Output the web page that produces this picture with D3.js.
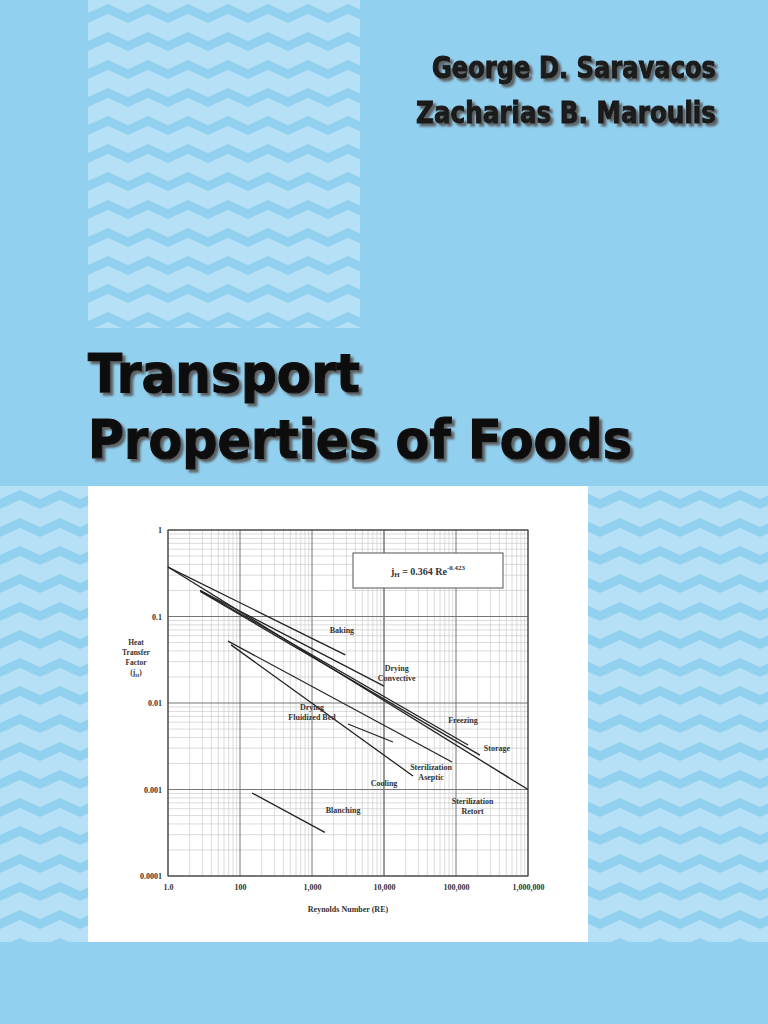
<!DOCTYPE html>
<html><head><meta charset="utf-8">
<script src="https://cdn.jsdelivr.net/npm/d3@7"></script>
<style>body{margin:0;}svg{display:block}</style>
</head><body>
<svg id="c" width="768" height="1024"></svg>
<script>
const authors = ["George D. Saravacos", "Zacharias B. Maroulis"];
const titleLines = ["Transport", "Properties of Foods"];
const xTicks = [10, 100, 1000, 10000, 100000, 1000000];
const xTickLabels = ["1.0", "100", "1,000", "10,000", "100,000", "1,000,000"];
const yTicks = [1, 0.1, 0.01, 0.001, 0.0001];
const yTickLabels = ["1", "0.1", "0.01", "0.001", "0.0001"];
const seriesNames = ["Main", "Baking", "Drying Convective", "Freezing", "Storage", "Fluidized A", "Aseptic", "Cooling", "Blanching"];
const seriesX = [[10,1000000],[10,2900],[28,10000],[28,147000],[28,215000],[68,88000],[75,25300],[3160,13300],[147,1510]];
const seriesY = [[0.373,0.001],[0.373,0.036],[0.2,0.0157],[0.2,0.00327],[0.195,0.0025],[0.052,0.00208],[0.047,0.00143],[0.00572,0.00354],[0.00091,0.00032]];
const labelText = [["Baking"],["Drying","Convective"],["Freezing"],["Storage"],["Drying","Fluidized Bed"],["Cooling"],["Sterilization","Aseptic"],["Blanching"],["Sterilization","Retort"]];
const labelX = [2600, 15000, 125000, 370000, 1000, 10000, 45000, 2700, 170000];
const labelY = [0.064, 0.0235, 0.0059, 0.0028, 0.0083, 0.0011, 0.0017, 0.00053, 0.00068];

const svg = d3.select("#c");
const base = "#92d0ef", light = "#b6e0f5";
svg.append("rect").attr("width",768).attr("height",1024).attr("fill",base);
const defs = svg.append("defs");
defs.append("filter").attr("id","sh").append("feDropShadow").attr("dx",3).attr("dy",3).attr("stdDeviation",0.8).attr("flood-color","#555").attr("flood-opacity",0.9);

function zigzag(x0,y0,w,h){
  const g = svg.append("g");
  g.append("rect").attr("x",x0).attr("y",y0).attr("width",w).attr("height",h).attr("fill",light);
  const cp = "zz"+x0+"_"+y0;
  defs.append("clipPath").attr("id",cp).append("rect").attr("x",x0).attr("y",y0).attr("width",w).attr("height",h);
  g.attr("clip-path","url(#"+cp+")");
  for(let y=y0-10;y<y0+h+30;y+=28){
    const pts=[];
    for(let x=x0-40;x<x0+w+40;x+=20) pts.push([x,y+(((x-x0+40)/20)%2?-9:0)]);
    g.append("path").attr("d",d3.line()(pts)).attr("fill","none").attr("stroke",base).attr("stroke-width",9);
  }
}
zigzag(88,0,272,328);
zigzag(0,486,768,456);

const authW=[284,300];
svg.selectAll(".auth").data(authors).join("text")
  .attr("x",716).attr("y",(d,i)=>78+i*45).attr("text-anchor","end")
  .attr("textLength",(d,i)=>authW[i]).attr("lengthAdjust","spacingAndGlyphs")
  .attr("font-family","DejaVu Sans Condensed, DejaVu Sans").attr("font-weight","bold")
  .attr("font-size",30).attr("fill","#1a1a1a").attr("stroke","#1a1a1a").attr("stroke-width",1)
  .attr("filter","url(#sh)")
  .text(d=>d);
const titleW=[272,544];
svg.selectAll(".title").data(titleLines).join("text")
  .attr("x",88).attr("y",(d,i)=>392+i*66)
  .attr("textLength",(d,i)=>titleW[i]).attr("lengthAdjust","spacingAndGlyphs")
  .attr("font-family","DejaVu Sans").attr("font-weight","bold").attr("font-size",54)
  .attr("fill","#111").attr("stroke","#111").attr("stroke-width",1.2)
  .attr("filter","url(#sh)")
  .text(d=>d);

svg.append("rect").attr("x",88).attr("y",486).attr("width",500).attr("height",456).attr("fill","#fff");
const x = d3.scaleLog().domain([10,1000000]).range([168,528]);
const y = d3.scaleLog().domain([0.0001,1]).range([876,530]);
const g = svg.append("g");
const minorX=[], minorY=[];
for(let e=1;e<6;e++) for(let k=2;k<10;k++) minorX.push(k*Math.pow(10,e));
for(let e=-4;e<0;e++) for(let k=2;k<10;k++) minorY.push(k*Math.pow(10,e));
g.selectAll(".mx").data(minorX).join("line").attr("x1",d=>x(d)).attr("x2",d=>x(d)).attr("y1",530).attr("y2",876).attr("stroke","#ccc").attr("stroke-width",0.7);
g.selectAll(".my").data(minorY).join("line").attr("y1",d=>y(d)).attr("y2",d=>y(d)).attr("x1",168).attr("x2",528).attr("stroke","#ccc").attr("stroke-width",0.7);
g.selectAll(".Mx").data(xTicks).join("line").attr("x1",d=>x(d)).attr("x2",d=>x(d)).attr("y1",530).attr("y2",876).attr("stroke","#777").attr("stroke-width",d=>d===10000?1.5:1);
g.selectAll(".My").data(yTicks).join("line").attr("y1",d=>y(d)).attr("y2",d=>y(d)).attr("x1",168).attr("x2",528).attr("stroke","#777").attr("stroke-width",1);
g.append("rect").attr("x",168).attr("y",530).attr("width",360).attr("height",346).attr("fill","none").attr("stroke","#333").attr("stroke-width",1);
const xa = g.append("g").attr("transform","translate(0,876)").call(d3.axisBottom(x).tickValues(xTicks).tickFormat((d,i)=>xTickLabels[i]).tickSize(0).tickPadding(8));
const ya = g.append("g").attr("transform","translate(168,0)").call(d3.axisLeft(y).tickValues(yTicks).tickFormat((d,i)=>yTickLabels[i]).tickSize(0).tickPadding(6));
[xa,ya].forEach(a=>{a.select(".domain").remove();a.selectAll("text").attr("font-family","Liberation Serif").attr("font-size",8).attr("font-weight","bold").attr("fill","#333");});
g.append("rect").attr("x",353).attr("y",553).attr("width",150).attr("height",35).attr("fill","#fff").attr("stroke","#555");
const eq = g.append("text").attr("x",428).attr("y",575).attr("text-anchor","middle").attr("font-family","Liberation Serif").attr("font-size",10).attr("font-weight","bold").attr("fill","#333");
eq.append("tspan").text("j");eq.append("tspan").attr("font-size",7).attr("dy",2).text("H");
eq.append("tspan").attr("dy",-2).text(" = 0.364 Re");eq.append("tspan").attr("font-size",7).attr("dy",-5).text("-0.423");
defs.append("clipPath").attr("id","pc").append("rect").attr("x",155).attr("y",530).attr("width",373).attr("height",346);
const line = d3.line().x(d=>x(d[0])).y(d=>y(d[1]));
g.append("g").attr("clip-path","url(#pc)").selectAll("path").data(seriesNames).join("path")
  .attr("d",(n,i)=>line(seriesX[i].map((v,j)=>[v,seriesY[i][j]])))
  .attr("fill","none").attr("stroke","#222").attr("stroke-width",1.3);
labelText.forEach((lines,i)=>{
  const t=g.append("text").attr("x",x(labelX[i])).attr("y",y(labelY[i])).attr("text-anchor","middle")
    .attr("font-family","Liberation Serif").attr("font-size",8).attr("font-weight","bold").attr("fill","#333");
  lines.forEach((l,j)=>t.append("tspan").attr("x",x(labelX[i])).attr("dy",j?10:0).text(l));
});
const yt=g.append("text").attr("text-anchor","middle").attr("font-family","Liberation Serif").attr("font-size",7.5).attr("font-weight","bold").attr("fill","#333");
["Heat","Transfer","Factor"].forEach((l,j)=>yt.append("tspan").attr("x",136).attr("y",645+j*10).text(l));
yt.append("tspan").attr("x",136).attr("y",675).text("(j"); yt.append("tspan").attr("font-size",5).attr("dy",2).text("H");yt.append("tspan").attr("dy",-2).text(")");
g.append("text").attr("x",348).attr("y",912).attr("text-anchor","middle").attr("font-family","Liberation Serif").attr("font-size",8).attr("font-weight","bold").attr("fill","#333").text("Reynolds Number (RE)");
</script>
</body></html>
